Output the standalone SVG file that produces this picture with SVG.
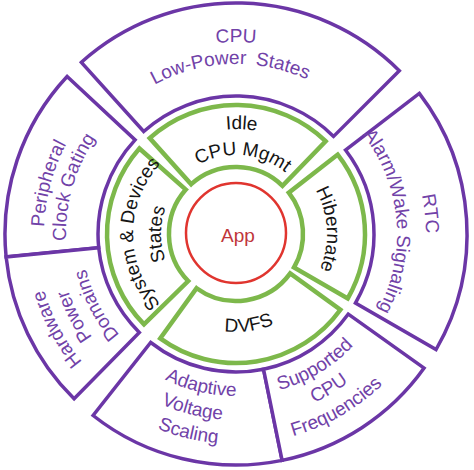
<svg xmlns="http://www.w3.org/2000/svg" width="474" height="470" viewBox="0 0 474 470">
<style>
.p{fill:#fff;stroke:#6b36a6;stroke-width:3.5;stroke-linejoin:miter}
.g{fill:#fff;stroke:#7db84b;stroke-width:4.5;stroke-linejoin:miter}
.t{font-family:"Liberation Sans",Arial,sans-serif;font-size:19px;text-anchor:middle}
.pt{fill:#7142a8}
.bt{fill:#151515}
</style>
<defs>
<path id="cw192" d="M44,234 A192 192 0 0 1 428,234"/>
<path id="cw190" d="M46,234 A190 190 0 0 1 426,234"/>
<path id="cw170" d="M66,234 A170 170 0 0 1 406,234"/>
<path id="cw161" d="M75,234 A161 161 0 0 1 397,234"/>
<path id="cw200" d="M36,234 A200 200 0 0 1 436,234"/>
<path id="cw177" d="M59,234 A177 177 0 0 1 413,234"/>
<path id="cw154" d="M82,234 A154 154 0 0 1 390,234"/>
<path id="cw105" d="M131,234 A105 105 0 0 1 341,234"/>
<path id="cw103" d="M133,234 A103 103 0 0 1 339,234"/>
<path id="cw91" d="M145,234 A91 91 0 0 1 327,234"/>
<path id="cw79" d="M157,234 A79 79 0 0 1 315,234"/>
<path id="cw75" d="M161,234 A75 75 0 0 1 311,234"/>
<path id="ccw98" d="M138,234 A98 98 0 0 0 334,234"/>
<path id="ccw162" d="M74,234 A162 162 0 0 0 398,234"/>
<path id="ccw186" d="M50,234 A186 186 0 0 0 422,234"/>
<path id="ccw210" d="M26,234 A210 210 0 0 0 446,234"/>
</defs>

<g id="cpu-low-power-states">
<path class="p" d="M399.3,70.7 A231 231 0 0 0 81.4,62.3 L143.7,131.5 A138 138 0 0 1 333.6,136.4 Z"/>
<text class="t pt"><textPath href="#cw192" startOffset="50%">CPU</textPath></text>
<text class="t pt" word-spacing="4" transform="rotate(-2 236 234)"><textPath href="#cw170" startOffset="50%">Low-Power States</textPath></text>
</g>

<g id="peripheral-clock-gating">
<path class="p" d="M67.1,76.5 A231 231 0 0 0 6.1,256.9 L98.7,247.7 A138 138 0 0 1 135.1,139.9 Z"/>
<text class="t pt" transform="rotate(-75 236 234)"><textPath href="#cw192" startOffset="50%">Peripheral</textPath></text>
<text class="t pt" transform="rotate(-74 236 234)"><textPath href="#cw170" startOffset="50%">Clock Gating</textPath></text>
</g>

<g id="hardware-power-domains">
<path class="p" d="M6.1,256.9 A231 231 0 0 0 74.1,398.8 L139.3,332.4 A138 138 0 0 1 98.7,247.7 Z"/>
<text class="t pt" transform="rotate(-118 236 234)"><textPath href="#cw200" startOffset="50%">Hardware</textPath></text>
<text class="t pt" transform="rotate(-117 236 234)"><textPath href="#cw177" startOffset="50%">Power</textPath></text>
<text class="t pt" transform="rotate(-117 236 234)"><textPath href="#cw154" startOffset="50%">Domains</textPath></text>
</g>

<g id="adaptive-voltage-scaling">
<path class="p" d="M93.1,415.5 A231 231 0 0 0 282.1,460.4 L263.5,369.2 A138 138 0 0 1 150.7,342.5 Z"/>
<text class="t pt" transform="rotate(13 236 234)"><textPath href="#ccw162" startOffset="50%">Adaptive</textPath></text>
<text class="t pt" transform="rotate(14 236 234)"><textPath href="#ccw186" startOffset="50%">Voltage</textPath></text>
<text class="t pt" transform="rotate(13.5 236 234)"><textPath href="#ccw210" startOffset="50%">Scaling</textPath></text>
</g>

<g id="supported-cpu-frequencies">
<path class="p" d="M282.1,460.4 A231 231 0 0 0 424.1,368.1 L348.3,314.1 A138 138 0 0 1 263.5,369.2 Z"/>
<text class="t pt" transform="rotate(-31 236 234)"><textPath href="#ccw162" startOffset="50%">Supported</textPath></text>
<text class="t pt" transform="rotate(-31 236 234)"><textPath href="#ccw186" startOffset="50%">CPU</textPath></text>
<text class="t pt" transform="rotate(-30 236 234)"><textPath href="#ccw210" startOffset="50%">Frequencies</textPath></text>
</g>

<g id="rtc-alarm-wake-signaling">
<path class="p" d="M436.1,349.5 A231 231 0 0 0 419.3,93.4 L345.5,150 A138 138 0 0 1 355.5,303 Z"/>
<text class="t pt" transform="rotate(84 236 234)"><textPath href="#cw190" startOffset="50%">RTC</textPath></text>
<text class="t pt" transform="rotate(85 236 234)"><textPath href="#cw161" startOffset="50%">Alarm/Wake Signaling</textPath></text>
</g>

<g id="idle-cpu-mgmt">
<path class="g" d="M325.6,141.2 A129 129 0 0 0 149.7,138.1 L191.2,184.2 A67 67 0 0 1 282.5,185.8 Z"/>
<text class="t bt" transform="rotate(3 236 234)"><textPath href="#cw105" startOffset="50%">Idle</textPath></text>
<text class="t bt" transform="rotate(5 236 234)"><textPath href="#cw79" startOffset="50%">CPU Mgmt</textPath></text>
</g>

<g id="hibernate">
<path class="g" d="M337.7,154.6 A129 129 0 0 1 347.7,298.5 L294,267.5 A67 67 0 0 0 288.8,192.7 Z"/>
<text class="t bt" transform="rotate(87 236 234)"><textPath href="#cw91" startOffset="50%">Hibernate</textPath></text>
</g>

<g id="dvfs">
<path class="g" d="M340.4,309.8 A129 129 0 0 1 160.2,338.4 L196.6,288.2 A67 67 0 0 0 290.2,273.4 Z"/>
<text class="t bt" transform="rotate(-8 236 234)"><textPath href="#ccw98" startOffset="50%">DVFS</textPath></text>
</g>

<g id="system-devices-states">
<path class="g" d="M139.4,148.5 A129 129 0 0 0 144,324.4 L188.2,281 A67 67 0 0 1 185.8,189.6 Z"/>
<text class="t bt" transform="rotate(-90 236 234)"><textPath href="#cw103" startOffset="50%">System &amp; Devices</textPath></text>
<text class="t bt" transform="rotate(-90 236 234)"><textPath href="#cw75" startOffset="50%">States</textPath></text>
</g>

<g id="app">
<circle cx="236" cy="233" r="50" fill="#fff" stroke="#e0352f" stroke-width="2.5"/>
<text class="t" x="238" y="242" fill="#c0363a">App</text>
</g>
</svg>
